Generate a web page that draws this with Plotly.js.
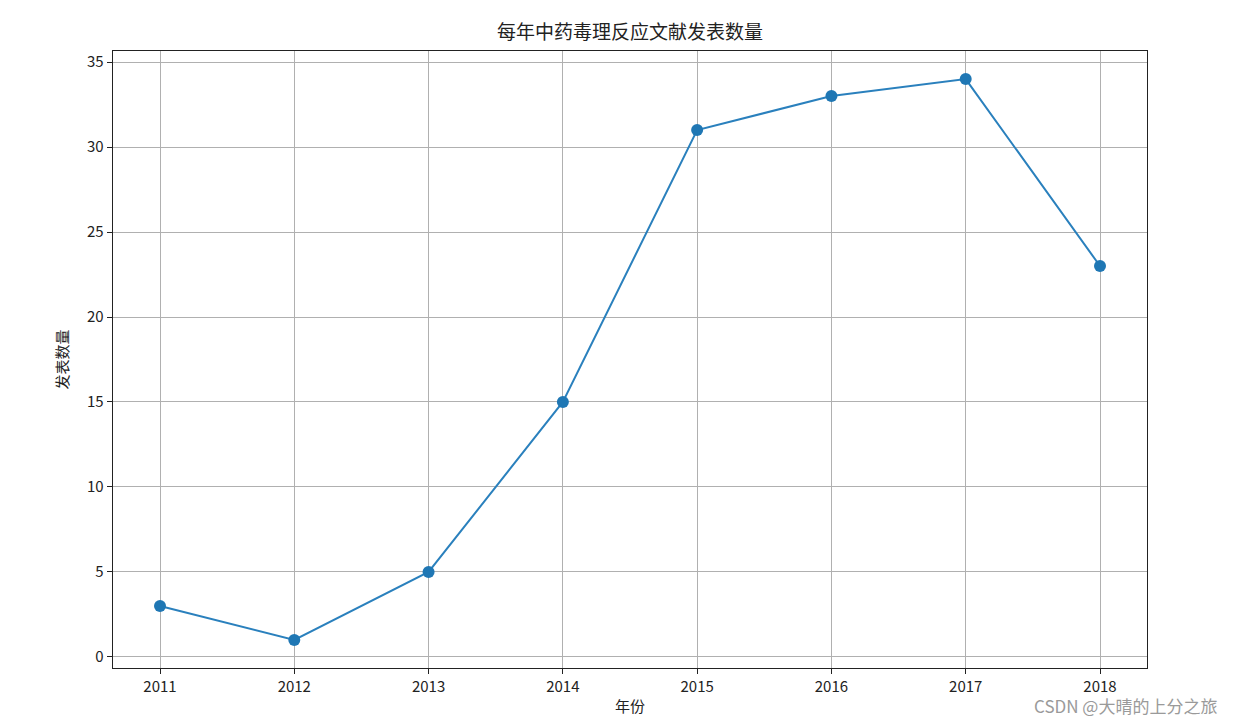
<!DOCTYPE html>
<html>
<head>
<meta charset="utf-8">
<script src="https://cdn.plot.ly/plotly-3.0.1.min.js"></script>
<style>
  html, body { margin: 0; padding: 0; background: #fff; }
  #topline { position: absolute; left: 43px; top: 0; width: 1191px; height: 1px; border-top: 2px solid #e4e4e4; }
  #chart { width: 1234px; height: 723px; }
</style>
</head>
<body>
<div id="topline"></div>
<div id="chart"></div>
<script>
// 数据
const years = [2011, 2012, 2013, 2014, 2015, 2016, 2017, 2018];
const counts = [3, 1, 5, 15, 31, 33, 34, 23];
const yTicks = [0, 5, 10, 15, 20, 25, 30, 35];

const cjk = '"Noto Sans CJK SC", "DejaVu Sans", sans-serif';

Plotly.newPlot('chart', [{
  x: years,
  y: counts,
  type: 'scatter',
  mode: 'lines+markers',
  line: { color: '#2a80bd', width: 2 },
  marker: { color: '#1f77b4', size: 12 }
}], {
  width: 1234,
  height: 723,
  margin: { l: 113, r: 87, t: 51, b: 55 },
  paper_bgcolor: '#fff',
  plot_bgcolor: '#fff',
  showlegend: false,
  font: { family: cjk, color: '#222', size: 15 },
  title: {
    text: '每年中药毒理反应文献发表数量',
    font: { family: cjk, size: 19, color: '#222' },
    xref: 'paper', x: 0.5, xanchor: 'center', y: 0.955, yanchor: 'middle'
  },
  xaxis: {
    range: [2010.65, 2018.35],
    tickvals: years,
    ticktext: years.map(String),
    showgrid: true, gridcolor: '#b0b0b0', gridwidth: 1,
    zeroline: false,
    showline: true, linecolor: '#222', linewidth: 1.3, mirror: true,
    ticks: 'outside', ticklen: 5, tickcolor: '#222',
    tickfont: { size: 15 },
    title: { text: '年份', font: { size: 15 }, standoff: 6 }
  },
  yaxis: {
    range: [-0.65, 35.65],
    tickvals: yTicks,
    showgrid: true, gridcolor: '#b0b0b0', gridwidth: 1,
    zeroline: false,
    showline: true, linecolor: '#222', linewidth: 1.3, mirror: true,
    ticks: 'outside', ticklen: 5, tickcolor: '#222',
    tickfont: { size: 15 },
    title: { text: '发表数量', font: { size: 15 }, standoff: 14 }
  },
  annotations: [{
    text: 'CSDN @大晴的上分之旅',
    xref: 'paper', yref: 'paper',
    x: 1.07, y: -0.061, xanchor: 'right', yanchor: 'middle',
    showarrow: false,
    font: { family: cjk, size: 17, color: '#9a9a9a' }
  }]
}, { displayModeBar: false, staticPlot: true });
</script>
</body>
</html>
